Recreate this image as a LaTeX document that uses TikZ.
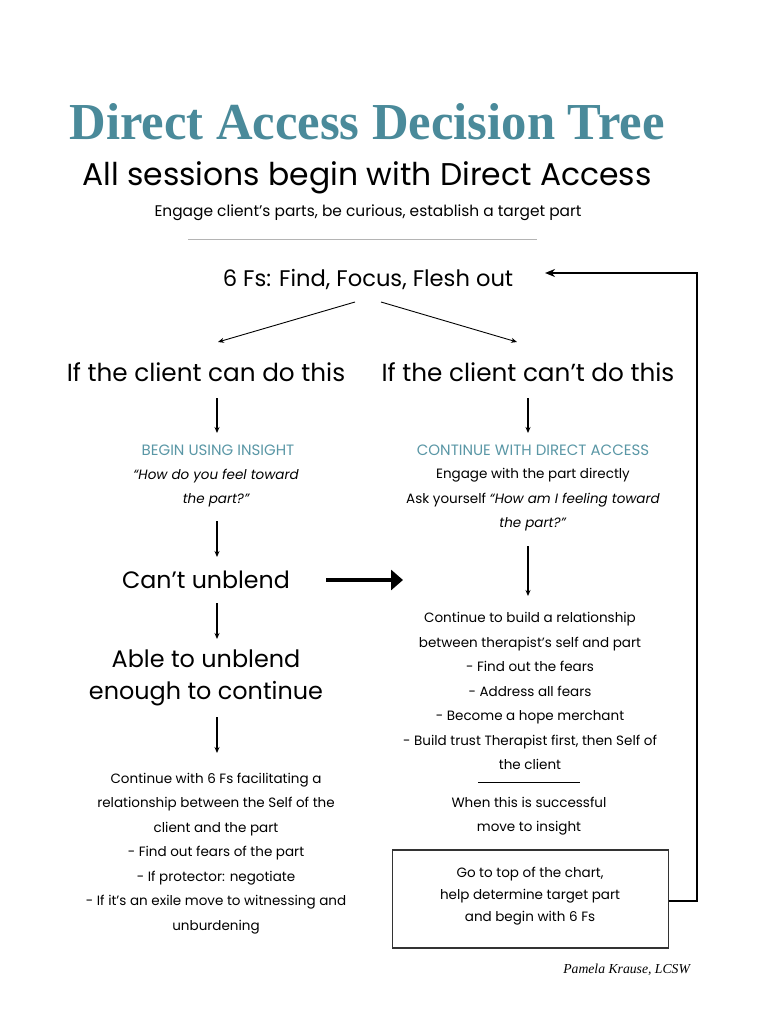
\documentclass[tikz,border=0pt]{standalone}
\usepackage{fontspec}
\setmainfont{Poppins}
\newfontfamily\serifit{Liberation Serif}
\usetikzlibrary{arrows.meta}
\definecolor{tealA}{HTML}{4A8A9A}
\definecolor{tealB}{HTML}{5A97A6}
\definecolor{rulegray}{HTML}{B4B4B4}
\begin{document}
\begin{tikzpicture}[x=1pt,y=-1pt,
  every node/.style={inner sep=0pt,outer sep=0pt},
  big/.style={font=\fontsize{24.7}{30}\selectfont},
  body/.style={font=\fontsize{13.5}{24.5}\selectfont,align=center},
  capline/.style={font=\fontsize{15}{18}\selectfont,text=tealB},
  arr/.style={line width=1.1pt,-{Stealth[length=6pt,width=5pt]}},
  thickarr/.style={line width=4.5pt,-{Triangle[length=12pt,width=20pt]}},
  fb/.style={line width=2pt,-{Stealth[length=10pt,width=8pt]}},
  boxstyle/.style={draw=black!80,line width=1.2pt,minimum width=276pt,minimum height=98pt}]
\fill[white] (0,0) rectangle (768,1024);
\useasboundingbox (0,0) rectangle (768,1024);

% titles
\node[text=tealA] (title) at (367,122) {\resizebox{595pt}{36pt}{\serifit\bfseries Direct Access Decision Tree}};
\node[font=\fontsize{31.4}{36}\selectfont] (sub) at (367,178) {All sessions begin with Direct Access};
\node[font=\fontsize{15.4}{18}\selectfont] (engage) at (368,213) {Engage client’s parts, be curious, establish a target part};
\coordinate (r1) at (188,239);
\coordinate (r2) at (537,239);
\draw[rulegray,line width=0.8pt] (r1) -- (r2);

% 6 Fs
\node[font=\fontsize{22.6}{26}\selectfont] (sixfs) at (368,280) {6 Fs: Find, Focus, Flesh out};
\coordinate (sl) at (355,302);
\coordinate (sr) at (381,302);
\coordinate (el) at (218,342);
\coordinate (er) at (517,342);
\draw[arr,line width=0.9pt] (sl) -- (el);
\draw[arr,line width=0.9pt] (sr) -- (er);

\node[big] (ifcan) at (206,372) {If the client can do this};
\node[big] (ifcant) at (528,372) {If the client can’t do this};

\coordinate (d1a) at (217,398); \coordinate (d1b) at (217,433);
\coordinate (d2a) at (528,398); \coordinate (d2b) at (528,433);
\draw[arr] (d1a) -- (d1b);
\draw[arr] (d2a) -- (d2b);

% left insight
\node[capline] (insight) at (218,450) {BEGIN USING INSIGHT};
\node[body] (insq) at (216,488) {\itshape “How do you feel toward\\\itshape the part?”};

% right direct access
\node[capline] (cont) at (533,450) {CONTINUE WITH DIRECT ACCESS};
\node[body] (engpart) at (533,500) {Engage with the part directly\\Ask yourself \textit{“How am I feeling toward}\\\textit{the part?”}};

\coordinate (d3a) at (217,521); \coordinate (d3b) at (217,557);
\draw[arr] (d3a) -- (d3b);
\node[font=\fontsize{23.7}{30}\selectfont] (cantun) at (206,580) {Can’t unblend};
\coordinate (t1) at (326,580); \coordinate (t2) at (403,580);
\draw[thickarr] (t1) -- (t2);

\coordinate (d4a) at (528,546); \coordinate (d4b) at (528,596);
\draw[arr] (d4a) -- (d4b);

\coordinate (d5a) at (217,603); \coordinate (d5b) at (217,639);
\draw[arr] (d5a) -- (d5b);
\node[align=center,font=\fontsize{23.9}{32}\selectfont] (able) at (206,678) {Able to unblend\\enough to continue};

\coordinate (d6a) at (217,717); \coordinate (d6b) at (217,753);
\draw[arr] (d6a) -- (d6b);

% left bottom block
\node[body] (leftblock) at (216,853.5) {Continue with 6 Fs facilitating a\\relationship between the Self of the\\client and the part\\- Find out fears of the part\\- If protector: negotiate\\- If it’s an exile move to witnessing and\\unburdening};

% right block
\node[body] (rightblock) at (530,691) {Continue to build a relationship\\between therapist’s self and part\\- Find out the fears\\- Address all fears\\- Become a hope merchant\\- Build trust Therapist first, then Self of\\the client};
\coordinate (s1) at (478,782); \coordinate (s2) at (580,782);
\draw[line width=0.8pt] (s1) -- (s2);
\node[body] (success) at (529,816) {When this is successful\\move to insight};

% box
\node[boxstyle] (box) at (530.5,899) {};
\node[align=center,font=\fontsize{13.5}{22}\selectfont] (boxtext) at (530,896) {Go to top of the chart,\\help determine target part\\and begin with 6 Fs};
\coordinate (ret) at (545,273);
\coordinate (corner) at (697,901);
\draw[fb] (box.east |- corner) -- (corner) |- (ret);

\node[font=\serifit\itshape\fontsize{13.7}{18}\selectfont,anchor=east] (sig) at (690,970) {Pamela Krause, LCSW};
\end{tikzpicture}
\end{document}
